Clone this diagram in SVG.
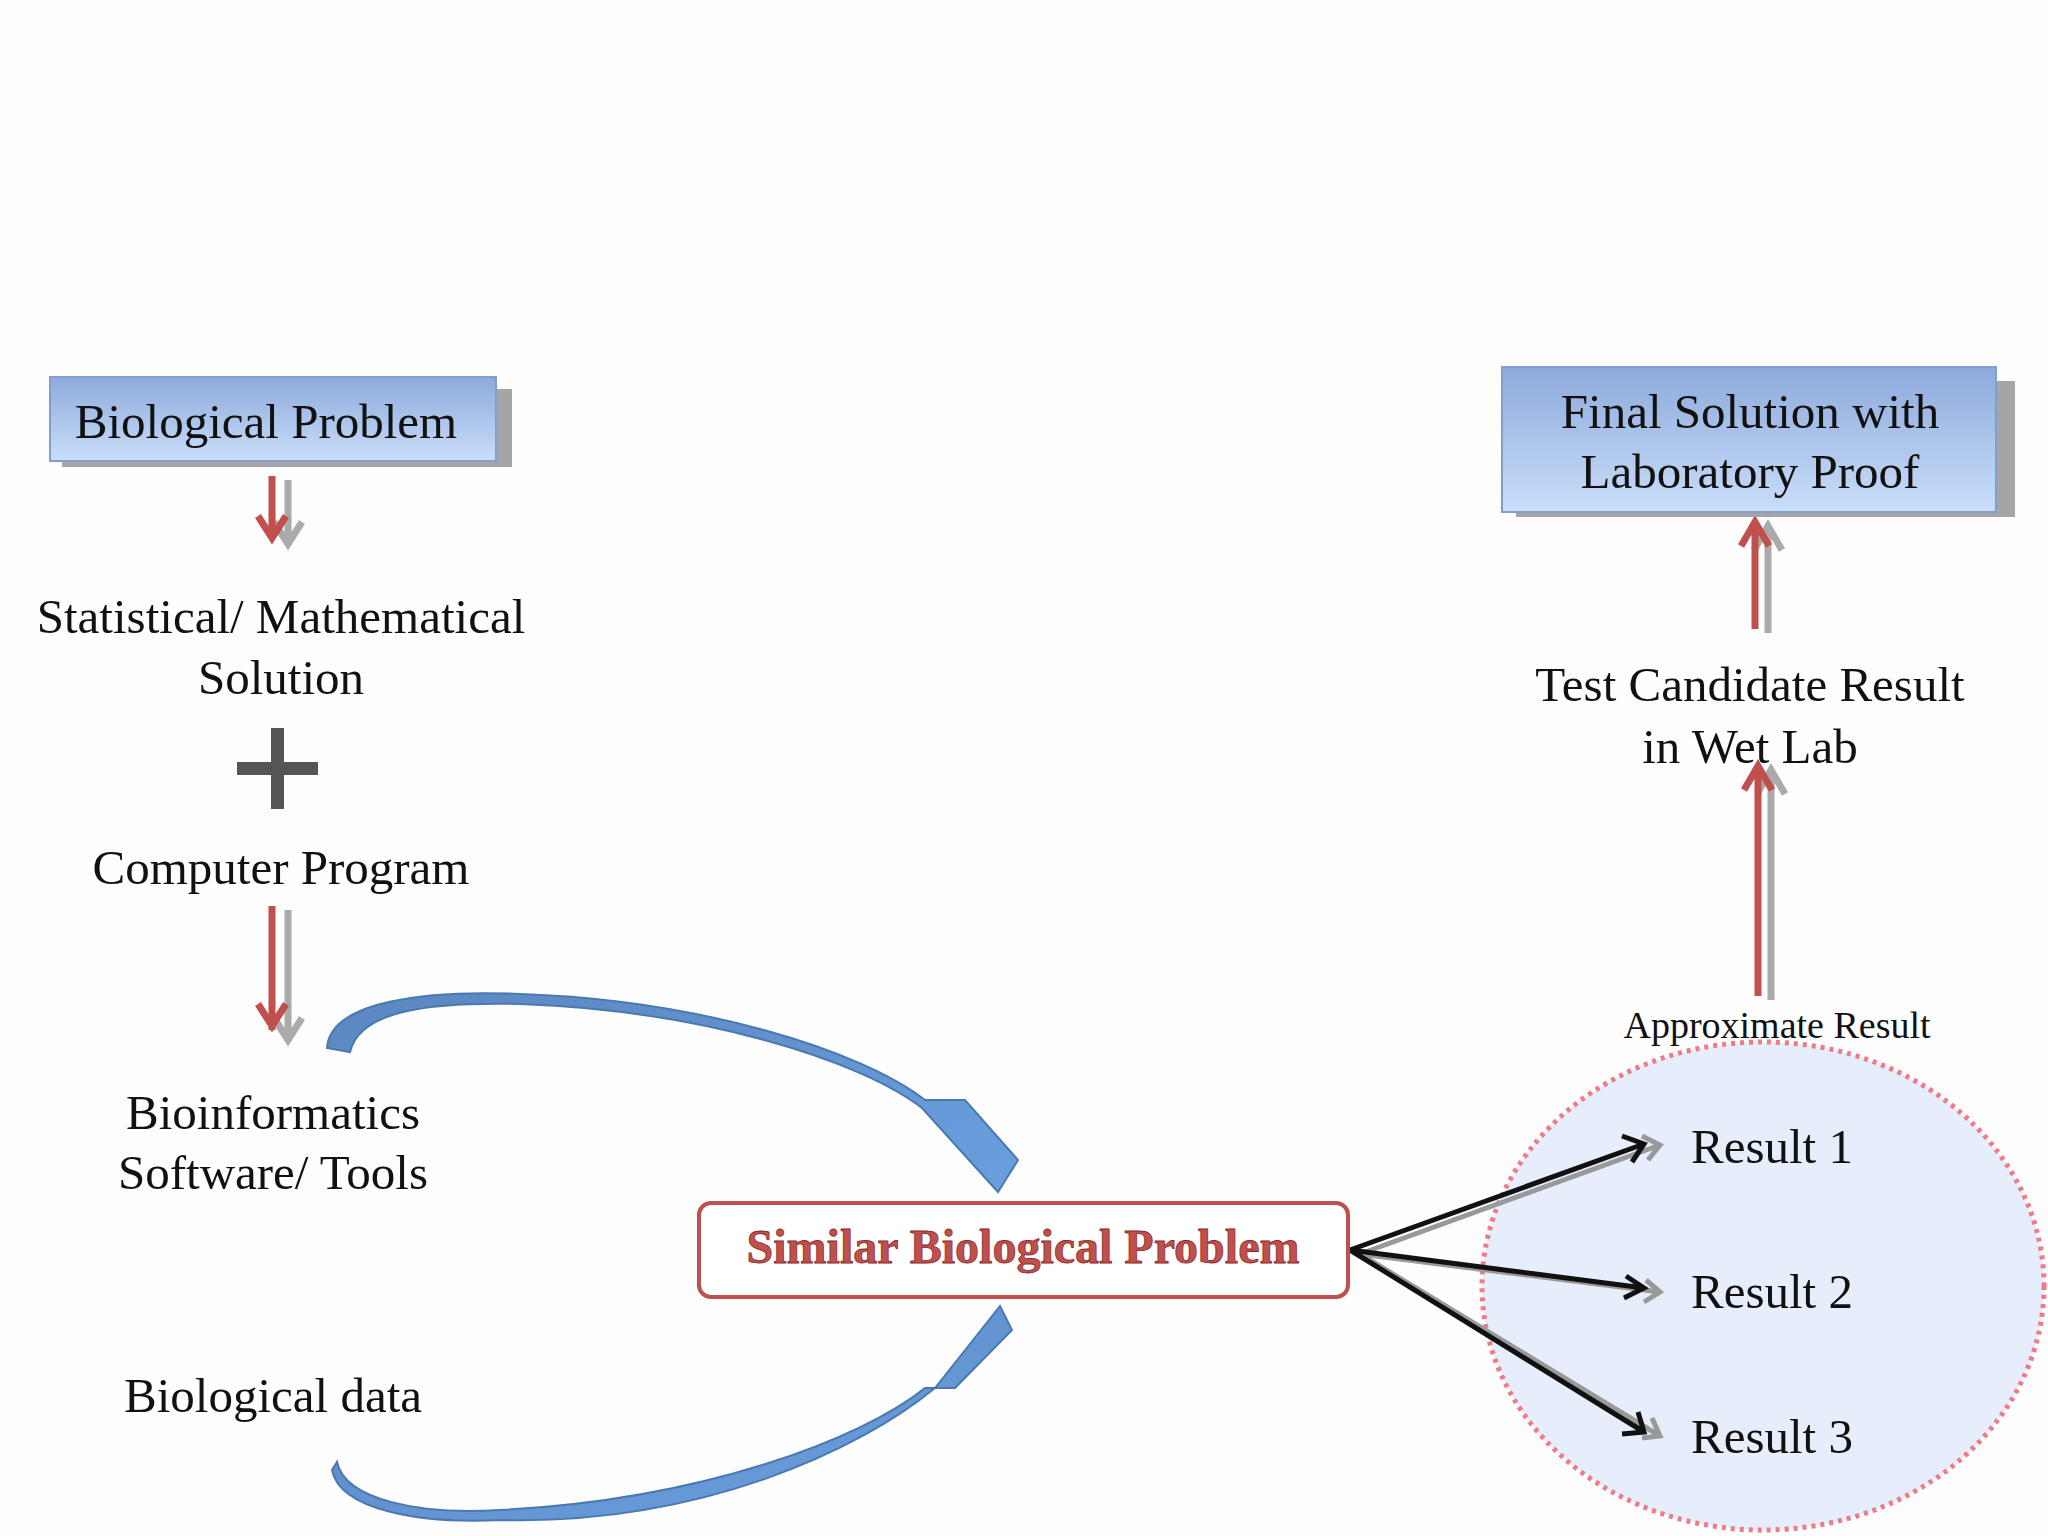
<svg xmlns="http://www.w3.org/2000/svg" width="2048" height="1536" viewBox="0 0 2048 1536">
<style>
.t{font-family:"Liberation Serif",serif;font-size:49px;fill:#111;text-anchor:middle}
.r{font-family:"Liberation Serif",serif;font-size:49px;fill:#111}
.red{stroke:#c0504d;stroke-width:7;fill:none}
.gr{stroke:#aaa;stroke-width:7;fill:none}
.bk{stroke:#111;stroke-width:5;fill:none}
.lg{stroke:#999;stroke-width:5;fill:none}
</style>
<defs>
<linearGradient id="bg" x1="0" y1="0" x2="0" y2="1"><stop offset="0" stop-color="#8eaadb"/><stop offset="1" stop-color="#c9defa"/></linearGradient>
<linearGradient id="cb" x1="0" y1="0" x2="1" y2="1"><stop offset="0" stop-color="#5b87c0"/><stop offset="1" stop-color="#6aa0e0"/></linearGradient>
</defs>
<rect width="2048" height="1536" fill="#fdfdfd"/>
<g id="circle"><ellipse cx="1763" cy="1286" rx="281" ry="244" fill="#e6eefb" stroke="#ee7b86" stroke-width="5" stroke-dasharray="4,5"/></g>
<g id="connectors">
<path class="gr" d="M288,480V538M274,522l14,22l14,-22"/>
<path class="red" d="M272,476V534M258,516l14,22l14,-22"/>
<path class="gr" d="M288,910V1034M274,1018l14,22l14,-22"/>
<path class="red" d="M272,906V1030M258,1004l14,22l14,-22"/>
<path class="gr" d="M1768,633V530M1754,550l14,-24l14,24"/>
<path class="red" d="M1755,629V526M1741,546l14,-24l14,24"/>
<path class="gr" d="M1771,1000V772M1757,794l14,-24l14,24"/>
<path class="red" d="M1758,996V768M1744,790l14,-24l14,24"/>
<path d="M327,1048C330,1000 430,990 520,994C700,1000 860,1050 925,1100L965,1100L1018,1160L998,1192L922,1108C860,1060 700,1010 520,1004C430,1002 360,1010 350,1052Z" fill="url(#cb)" stroke="#4a79b0" stroke-width="2"/>
<path d="M337,1462C345,1500 420,1515 500,1510C700,1500 860,1440 925,1388L955,1388L1012,1330L1000,1306L935,1388C860,1450 700,1525 500,1520C420,1524 340,1510 332,1470Z" fill="url(#cb)" stroke="#4a79b0" stroke-width="2"/>
<g class="lg"><path d="M1360,1254L1660,1145M1642,1136l18,9l-12,15"/><path d="M1360,1254L1660,1292M1646,1280l14,12l-16,10"/><path d="M1360,1254L1660,1436M1652,1418l8,18l-18,2"/></g>
<g class="bk"><path d="M1350,1250L1644,1144M1622,1136l22,8l-12,18"/><path d="M1350,1250L1644,1288M1626,1276l18,12l-20,10"/><path d="M1350,1250L1644,1432M1638,1412l6,20l-22,2"/></g>
</g>
<g id="bio-problem"><rect x="62" y="389" width="450" height="78" fill="#a5a5a5"/><rect x="50" y="377" width="446" height="84" fill="url(#bg)" stroke="#7f9fd0" stroke-width="2"/><text class="t" x="266" y="438">Biological Problem</text></g>
<g id="stat"><text class="t" x="281" y="633">Statistical/ Mathematical</text><text class="t" x="281" y="694">Solution</text></g>
<g id="plus"><rect x="237" y="762" width="81" height="13" fill="#555"/><rect x="271" y="728" width="13" height="81" fill="#555"/></g>
<g id="computer"><text class="t" x="281" y="884">Computer Program</text></g>
<g id="bioinf"><text class="t" x="273" y="1129">Bioinformatics</text><text class="t" x="273" y="1189">Software/ Tools</text></g>
<g id="biodata"><text class="t" x="273" y="1412">Biological data</text></g>
<g id="similar"><rect x="699" y="1203" width="649" height="94" rx="12" fill="#fff" stroke="#c0504d" stroke-width="4"/><text x="1023" y="1263" text-anchor="middle" font-family="Liberation Serif,serif" font-size="48" font-weight="bold" fill="#c0504d" stroke="#8a2a28" stroke-width="0.8">Similar Biological Problem</text></g>
<g id="final"><rect x="1516" y="381" width="499" height="136" fill="#a5a5a5"/><rect x="1502" y="367" width="494" height="145" fill="url(#bg)" stroke="#7f9fd0" stroke-width="2"/><text class="t" x="1750" y="428">Final Solution with</text><text class="t" x="1750" y="488">Laboratory Proof</text></g>
<g id="test"><text class="t" x="1750" y="701">Test Candidate Result</text><text class="t" x="1750" y="763">in Wet Lab</text></g>
<g id="approx"><text class="t" x="1777" y="1038" style="font-size:38px">Approximate Result</text></g>
<g id="results"><text class="r" x="1691" y="1163">Result 1</text><text class="r" x="1691" y="1308">Result 2</text><text class="r" x="1691" y="1453">Result 3</text></g>
</svg>
